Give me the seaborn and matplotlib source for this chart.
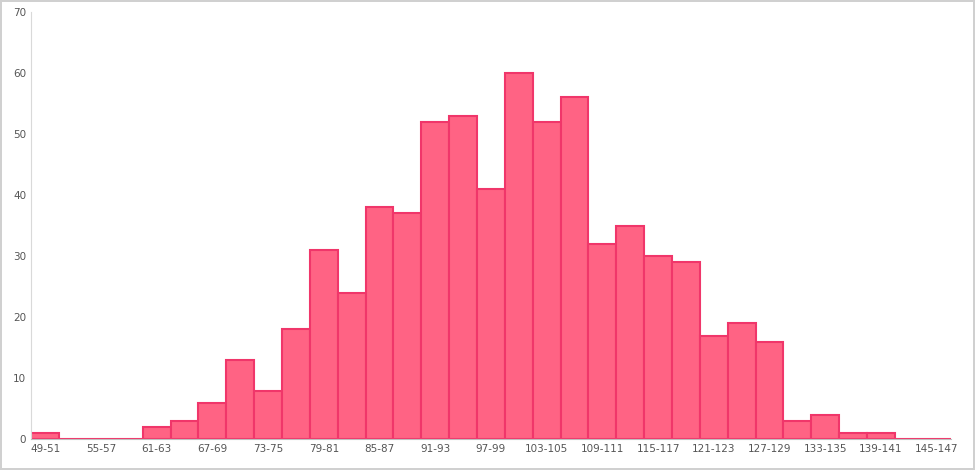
import matplotlib
matplotlib.use('Agg')
import matplotlib.pyplot as plt
import pandas as pd
import seaborn as sns

# bins of 3 from 49 to 147
bins = [f'{lo}-{lo + 2}' for lo in range(49, 148, 3)]
counts = [1, 0, 0, 0, 2, 3, 6, 13, 8, 18, 31, 24, 38, 37, 52, 53, 41,
          60, 52, 56, 32, 35, 30, 29, 17, 19, 16, 3, 4, 1, 1, 0, 0]

df = pd.DataFrame({'bin': bins, 'count': counts})

sns.set_style('white')
plt.rcParams['font.family'] = ['DejaVu Sans']

fig, ax = plt.subplots(figsize=(9.75, 4.7), dpi=100)
sns.barplot(data=df, x='bin', y='count', ax=ax, width=1.0,
            color='#FF6384', edgecolor='#F0366A', linewidth=1.5, saturation=1)

ax.set_ylim(0, 70)
ax.set_yticks(range(0, 71, 10))
ax.set_xlim(-0.5, len(bins) - 0.5)
ax.set_xticks(range(0, len(bins), 2))
ax.set_xticklabels(bins[::2])
ax.tick_params(axis='both', labelsize=7.5, colors='#555555', length=0)
ax.set_xlabel('')
ax.set_ylabel('')
for s in ['top', 'right']:
    ax.spines[s].set_visible(False)
ax.spines['left'].set_color('#d9d9d9')
ax.spines['bottom'].set_color('#bfbfbf')

fig.patch.set_edgecolor('#d0d0d0')
fig.patch.set_linewidth(1.5)
plt.subplots_adjust(left=0.032, right=0.975, top=0.975, bottom=0.065)
plt.savefig('out.png', dpi=100, edgecolor=fig.get_edgecolor())
